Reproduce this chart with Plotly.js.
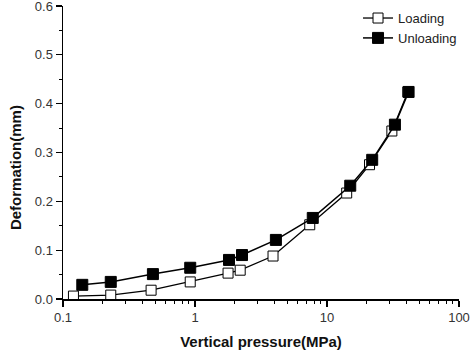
<!DOCTYPE html>
<html><head><meta charset="utf-8">
<script src="https://cdn.plot.ly/plotly-3.0.1.min.js"></script>
<style>html,body{margin:0;padding:0;background:#fff}#c{width:474px;height:363px}</style>
</head><body><div id="c"></div>
<script>
var loadingP = [0.12, 0.23, 0.465, 0.92, 1.78, 2.2, 3.9, 7.4, 14.1, 21, 31, 41];
var loadingD = [0.006, 0.008, 0.018, 0.035, 0.053, 0.059, 0.088, 0.152, 0.217, 0.275, 0.344, 0.424];
var unloadingP = [0.14, 0.23, 0.48, 0.92, 1.81, 2.27, 4.1, 7.8, 15, 22, 32.7, 41.5];
var unloadingD = [0.029, 0.035, 0.051, 0.064, 0.080, 0.090, 0.121, 0.166, 0.232, 0.285, 0.357, 0.424];
var xTickVals = [0.1, 1, 10, 100];
var xTickText = ['0.1', '1', '10', '100'];
var yTickVals = [0, 0.1, 0.2, 0.3, 0.4, 0.5, 0.6];
var yTickText = ['0.0', '0.1', '0.2', '0.3', '0.4', '0.5', '0.6'];
var xMinor = [];
[0.1, 1, 10].forEach(function(d){ for (var k = 2; k <= 9; k++) xMinor.push(d * k); });
var yMinor = [0.05, 0.15, 0.25, 0.35, 0.45, 0.55];

var font = 'Arial, "Liberation Sans", sans-serif';
var traces = [
  {x: loadingP, y: loadingD, name: 'Loading', mode: 'lines+markers', type: 'scatter',
   line: {color: '#000', width: 1.3},
   marker: {symbol: 'square', size: 10, color: '#fff', line: {color: '#000', width: 1}}},
  {x: unloadingP, y: unloadingD, name: 'Unloading', mode: 'lines+markers', type: 'scatter',
   line: {color: '#000', width: 1.5},
   marker: {symbol: 'square', size: 11, color: '#000', line: {color: '#000', width: 1}}}
];
var layout = {
  width: 474, height: 363,
  margin: {l: 63, r: 15, t: 6, b: 64, autoexpand: false},
  paper_bgcolor: '#fff', plot_bgcolor: '#fff',
  font: {family: font, color: '#222', size: 13},
  showlegend: true,
  legend: {x: 0.745, y: 1.01, xanchor: 'left', yanchor: 'top', bgcolor: 'rgba(0,0,0,0)',
    font: {family: font, size: 13, color: '#222'}, tracegroupgap: 0, itemwidth: 30},
  xaxis: {type: 'log', range: [-1, 2], tickvals: xTickVals, ticktext: xTickText, automargin: false,
    showgrid: false, zeroline: false, showline: true, linecolor: '#000', linewidth: 1.5,
    ticks: 'outside', ticklen: 6, tickwidth: 1.3, tickcolor: '#000',
    minor: {tickvals: xMinor, ticks: 'outside', ticklen: 3, tickwidth: 1, tickcolor: '#000', showgrid: false},
    tickfont: {family: font, size: 13, color: '#333'}, ticklabeloverflow: 'allow',
    title: {text: '<b>Vertical pressure(MPa)</b>', font: {family: font, size: 15, color: '#111'}, standoff: 12}},
  yaxis: {range: [0, 0.6], tickvals: yTickVals, ticktext: yTickText, automargin: false,
    showgrid: false, zeroline: false, showline: true, linecolor: '#000', linewidth: 1.5,
    ticks: 'outside', ticklen: 6, tickwidth: 1.3, tickcolor: '#000',
    minor: {tickvals: yMinor, ticks: 'outside', ticklen: 3, tickwidth: 1, tickcolor: '#000', showgrid: false},
    tickfont: {family: font, size: 13, color: '#333'}, ticklabeloverflow: 'allow'},
  annotations: [{text: '<b>Deformation(mm)</b>', textangle: -90, xref: 'paper', yref: 'paper',
    x: -0.121, y: 0.447, xanchor: 'center', yanchor: 'middle', showarrow: false,
    font: {family: font, size: 15, color: '#111'}}]
};
Plotly.newPlot('c', traces, layout, {staticPlot: true, displayModeBar: false});
</script></body></html>
